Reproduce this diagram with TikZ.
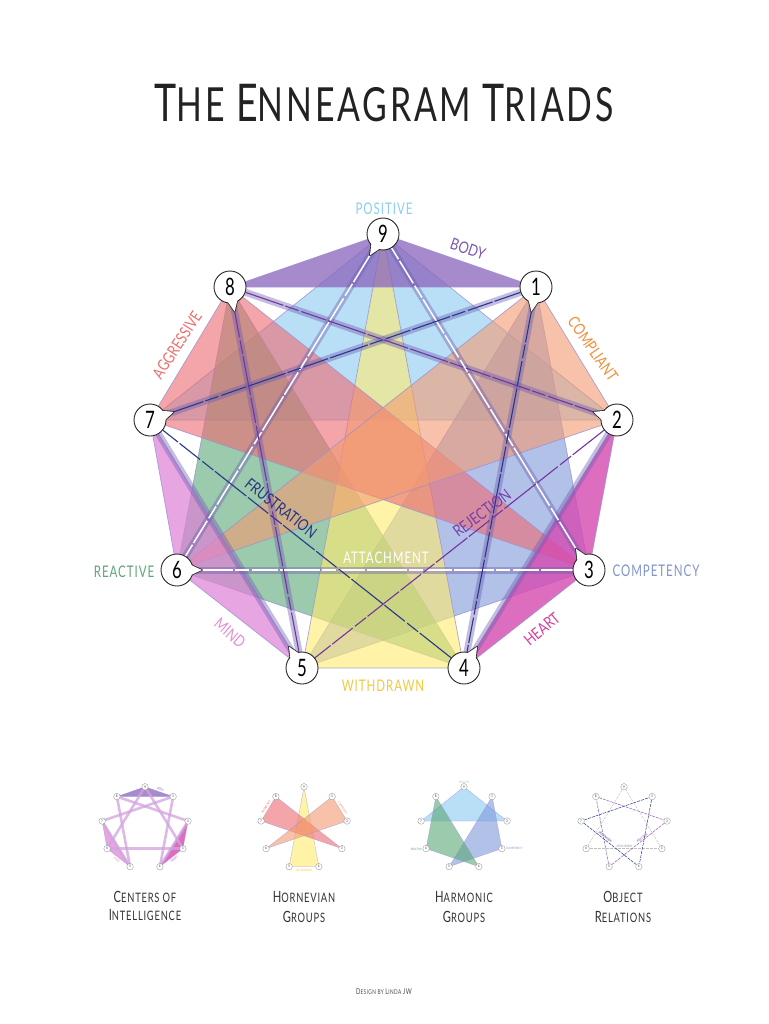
\documentclass[tikz,border=0pt]{standalone}
\usepackage{fontspec}
\usetikzlibrary{calc}
\newfontfamily\hand{Lato}[FakeStretch=0.72,LetterSpace=6]
\newfontfamily\handr{Lato}[FakeStretch=0.8]
\newfontfamily\handnum{Lato}[FakeStretch=0.7]
\pgfdeclarelayer{paper}
\pgfdeclarelayer{fills}
\pgfdeclarelayer{bands}
\pgfsetlayers{paper,fills,bands,main}
\definecolor{cpos}{HTML}{8BCBF0}
\definecolor{ccomp}{HTML}{7F98DA}
\definecolor{creac}{HTML}{5BA777}
\definecolor{cwith}{HTML}{FFEC6E}
\definecolor{caggr}{HTML}{EE6A70}
\definecolor{ccompl}{HTML}{F29A70}
\definecolor{cbody}{HTML}{8A64BC}
\definecolor{cheart}{HTML}{D54AB0}
\definecolor{cmind}{HTML}{DE80D6}
\definecolor{cedge}{HTML}{9890D4}
\definecolor{cband}{HTML}{6A5AB0}
\definecolor{cmband}{HTML}{D2A4DE}
\definecolor{cfrus}{HTML}{28378A}
\definecolor{crej}{HTML}{7434A0}
\definecolor{lpos}{HTML}{8CCFEF}
\definecolor{lbody}{HTML}{7858B0}
\definecolor{lcompl}{HTML}{F0903C}
\definecolor{lcomp}{HTML}{8294CC}
\definecolor{lheart}{HTML}{D4409C}
\definecolor{lwith}{HTML}{F2C840}
\definecolor{lmind}{HTML}{E58ED6}
\definecolor{lreac}{HTML}{62A47A}
\definecolor{laggr}{HTML}{EE6E6E}
\definecolor{lfrus}{HTML}{2A3580}
\definecolor{lrej}{HTML}{7B3FA8}
\definecolor{ink}{HTML}{222222}
\newcommand\edgeW{0.7pt}
\newcommand\setpts[1]{%
  \coordinate (#11) at (536,287);
  \coordinate (#12) at (617,420);
  \coordinate (#13) at (589,570);
  \coordinate (#14) at (464,668);
  \coordinate (#15) at (302,668);
  \coordinate (#16) at (177,570);
  \coordinate (#17) at (150,420);
  \coordinate (#18) at (230,287);
  \coordinate (#19) at (383,234);}
\newcommand\harmfill[1]{%
  \path[fpos] (#19)--(#12)--(#17)--cycle;
  \path[fcomp] (#11)--(#13)--(#15)--cycle;
  \path[freac] (#18)--(#16)--(#14)--cycle;}
\newcommand\hornfill[1]{%
  \path[fwith] (#19)--(#14)--(#15)--cycle;
  \path[faggr] (#17)--(#18)--(#13)--cycle;
  \path[fcompl] (#11)--(#12)--(#16)--cycle;}
\newcommand\centfill[1]{%
  \path[fbody] (#18)--(#19)--(#11)--cycle;
  \path[fheart] (#12)--(#13)--(#14)--cycle;
  \path[fmind] (#15)--(#16)--(#17)--cycle;}
\newcommand\bandlines[2]{%
  \foreach \u/\v in {9/3,3/6,6/9,1/4,4/2,2/8,8/5,5/7,7/1} {\draw[#2] (#1\u)--(#1\v);}}
\newcommand\ennode[2]{%
  \path[tailout] ($(p#1)!13pt!28:(p#2)$) -- ($(p#1)!25pt!(p#2)$) -- ($(p#1)!13pt!-28:(p#2)$) -- cycle;
  \node[enode] (n#1) at (p#1) {#1};
  \fill[white] ($(p#1)!13pt!28:(p#2)$) -- ($(p#1)!25pt!(p#2)$) -- ($(p#1)!13pt!-28:(p#2)$) -- cycle;}
\newcommand\minodes[2]{%
  \foreach \i in {1,...,9} {\node[mnode] (#2\i) at (#1\i) {\i};}}
\newcommand\tb{\fontsize{52}{52}\selectfont}
\newcommand\ts{\fontsize{47}{47}\selectfont}
\newcommand\cb{\fontsize{15.5}{15.5}\selectfont}
\newcommand\cs{\fontsize{13}{13}\selectfont}
\newcommand\fb{\fontsize{8}{8}\selectfont}
\newcommand\fs{\fontsize{6.6}{6.6}\selectfont}
\begin{document}
\begin{tikzpicture}[x=1pt,y=-1pt,
 fpos/.style={fill=cpos,fill opacity=0.6,draw=cedge,draw opacity=0.8,line width=\edgeW},
 fcomp/.style={fill=ccomp,fill opacity=0.6,draw=cedge,draw opacity=0.8,line width=\edgeW},
 freac/.style={fill=creac,fill opacity=0.6,draw=cedge,draw opacity=0.8,line width=\edgeW},
 fwith/.style={fill=cwith,fill opacity=0.6,draw=cedge,draw opacity=0.8,line width=\edgeW},
 faggr/.style={fill=caggr,fill opacity=0.6,draw=cedge,draw opacity=0.8,line width=\edgeW},
 fcompl/.style={fill=ccompl,fill opacity=0.6,draw=cedge,draw opacity=0.8,line width=\edgeW},
 fbody/.style={fill=cbody,fill opacity=0.75,draw=cedge,draw opacity=0.8,line width=\edgeW},
 fheart/.style={fill=cheart,fill opacity=0.8,draw=cedge,draw opacity=0.8,line width=\edgeW},
 fmind/.style={fill=cmind,fill opacity=0.7,draw=cedge,draw opacity=0.8,line width=\edgeW},
 band/.style={draw=cband,draw opacity=0.4,line width=7pt,line cap=round},
 mband/.style={draw=cmband,draw opacity=0.75,line width=2.6pt,line cap=round},
 attach/.style={draw=white,line width=1.5pt,dash pattern=on 40pt off 2pt on 14pt off 3pt on 26pt off 2pt},
 frus/.style={draw=cfrus,line width=1.1pt,dash pattern=on 40pt off 2pt on 14pt off 3pt on 26pt off 2pt},
 rej/.style={draw=crej,line width=1.1pt,dash pattern=on 40pt off 2pt on 14pt off 3pt on 26pt off 2pt},
 mattach/.style={draw=black!25,line width=0.4pt,dash pattern=on 3pt off 1pt},
 mfrus/.style={draw=cfrus,line width=0.5pt,dash pattern=on 3pt off 1pt},
 mrej/.style={draw=crej!80,line width=0.5pt,dash pattern=on 3pt off 1pt},
 enode/.style={circle,fill=white,draw=black!85,line width=0.9pt,minimum size=32pt,inner sep=0pt,font=\handnum\fontsize{24}{24}\selectfont},
 tailout/.style={draw=black!85,line width=1.6pt,fill=white,line join=round},
 mnode/.style={circle,fill=white,draw=black!45,line width=0.3pt,minimum size=6.5pt,inner sep=0pt,font=\handnum\fontsize{3.5}{3.5}\selectfont},
 lab/.style={font=\hand\fontsize{16}{16}\selectfont,inner sep=0pt},
 rlab/.style={font=\handr\fontsize{16}{16}\selectfont,inner sep=0pt},
 mlab/.style={font=\handr\fontsize{3}{3}\selectfont,inner sep=0pt},
 captext/.style={font=\hand,text=black!80,inner sep=0pt}]
\useasboundingbox (0,0) rectangle (768,1024);
\begin{pgfonlayer}{paper}
  \fill[white] (0,0) rectangle (768,1024);
\end{pgfonlayer}
% title
\node[font=\hand,text=ink,inner sep=0pt] (title) at (384,103) {\tb T\ts HE \tb E\ts NNEAGRAM \tb T\ts RIADS};
% main enneagram
\setpts{p}
\ennode{9}{6}
\ennode{1}{4}
\ennode{2}{8}
\ennode{3}{9}
\ennode{4}{2}
\ennode{5}{7}
\ennode{6}{3}
\ennode{7}{1}
\ennode{8}{5}
\begin{pgfonlayer}{fills}
  \harmfill{p}
  \hornfill{p}
  \centfill{p}
\end{pgfonlayer}
\begin{pgfonlayer}{bands}
  \bandlines{p}{band}
  \draw[attach] (n9) -- (n6);
  \draw[attach] (n6) -- (n3);
  \draw[attach] (n3) -- (n9);
  \draw[frus] (n7) -- (n1);
  \draw[frus] (n1) -- (n4);
  \draw[frus] (n4) -- (n7);
  \draw[rej] (n8) -- (n2);
  \draw[rej] (n2) -- (n5);
  \draw[rej] (n5) -- (n8);
\end{pgfonlayer}
\node[lab,text=lpos] (lPos) at (384,209) {POSITIVE};
\node[rlab,text=lbody,rotate=-19] (lBody) at (468,249) {BODY};
\node[rlab,text=lcompl,rotate=-55] (lCompl) at (593,349) {COMPLIANT};
\node[lab,text=lcomp] (lComp) at (656,571) {COMPETENCY};
\node[rlab,text=lheart,rotate=40] (lHeart) at (542,629) {HEART};
\node[lab,text=lwith] (lWith) at (383,686) {WITHDRAWN};
\node[rlab,text=lmind,rotate=-41] (lMind) at (230,633) {MIND};
\node[lab,text=lreac] (lReac) at (124,572) {REACTIVE};
\node[rlab,text=laggr,rotate=57] (lAggr) at (177,345) {AGGRESSIVE};
\node[rlab,text=lfrus,rotate=-38] (lFrus) at (281,508) {FRUSTRATION};
\node[rlab,text=lrej,rotate=37] (lRej) at (482,513) {REJECTION};
\node[lab,text=white] (lAtt) at (386,558) {ATTACHMENT};
% thumbnail 1: centers of intelligence
\begin{scope}[shift={(145,828)},scale=0.184,shift={(-383,-458)}]
  \renewcommand\edgeW{0.25pt}
  \setpts{ca}
  \minodes{ca}{na}
  \begin{pgfonlayer}{fills}
    \centfill{ca}
  \end{pgfonlayer}
  \begin{pgfonlayer}{bands}
    \bandlines{ca}{mband}
  \end{pgfonlayer}
  \node[mlab,text=lbody,rotate=-19] at (468,249) {BODY};
  \node[mlab,text=lheart,rotate=40] at (542,629) {HEART};
  \node[mlab,text=lmind,rotate=-41] at (230,633) {MIND};
\end{scope}
% thumbnail 2: hornevian
\begin{scope}[shift={(304,828)},scale=0.184,shift={(-383,-458)}]
  \renewcommand\edgeW{0.25pt}
  \setpts{cb}
  \minodes{cb}{nb}
  \begin{pgfonlayer}{fills}
    \hornfill{cb}
  \end{pgfonlayer}
  \node[mlab,text=laggr,rotate=57] at (177,345) {AGGRESSIVE};
  \node[mlab,text=lcompl,rotate=-55] at (593,349) {COMPLIANT};
  \node[mlab,text=lwith] at (383,686) {WITHDRAWN};
\end{scope}
% thumbnail 3: harmonic
\begin{scope}[shift={(464,828)},scale=0.184,shift={(-383,-458)}]
  \renewcommand\edgeW{0.25pt}
  \setpts{cc}
  \minodes{cc}{nc}
  \begin{pgfonlayer}{fills}
    \harmfill{cc}
  \end{pgfonlayer}
  \node[mlab,text=lpos] at (384,209) {POSITIVE};
  \node[mlab,text=lreac] at (124,572) {REACTIVE};
  \node[mlab,text=lcomp] at (656,571) {COMPETENCY};
\end{scope}
% thumbnail 4: object relations
\begin{scope}[shift={(624,828)},scale=0.184,shift={(-383,-458)}]
  \setpts{cd}
  \minodes{cd}{nd}
  \begin{pgfonlayer}{bands}
    \draw[mattach] (nd9) -- (nd6);
    \draw[mattach] (nd6) -- (nd3);
    \draw[mattach] (nd3) -- (nd9);
    \draw[mfrus] (nd7) -- (nd1);
    \draw[mfrus] (nd1) -- (nd4);
    \draw[mfrus] (nd4) -- (nd7);
    \draw[mrej] (nd8) -- (nd2);
    \draw[mrej] (nd2) -- (nd5);
    \draw[mrej] (nd5) -- (nd8);
  \end{pgfonlayer}
  \node[mlab,text=lfrus,rotate=-38] at (281,508) {FRUSTRATION};
  \node[mlab,text=lrej,rotate=37] at (482,513) {REJECTION};
  \node[mlab,text=black!45] at (386,558) {ATTACHMENT};
\end{scope}
% captions
\node[captext] (c1a) at (145,897) {\cb C\cs ENTERS OF};
\node[captext] (c1b) at (145,915) {\cb I\cs NTELLIGENCE};
\node[captext] (c2a) at (304,897) {\cb H\cs ORNEVIAN};
\node[captext] (c2b) at (304,917) {\cb G\cs ROUPS};
\node[captext] (c3a) at (464,897) {\cb H\cs ARMONIC};
\node[captext] (c3b) at (464,917) {\cb G\cs ROUPS};
\node[captext] (c4a) at (623,897) {\cb O\cs BJECT};
\node[captext] (c4b) at (623,917) {\cb R\cs ELATIONS};
\node[captext,text=black!70] (foot) at (384,992) {\fb D\fs ESIGN BY \fb L\fs INDA \fb JW};
\end{tikzpicture}
\end{document}
